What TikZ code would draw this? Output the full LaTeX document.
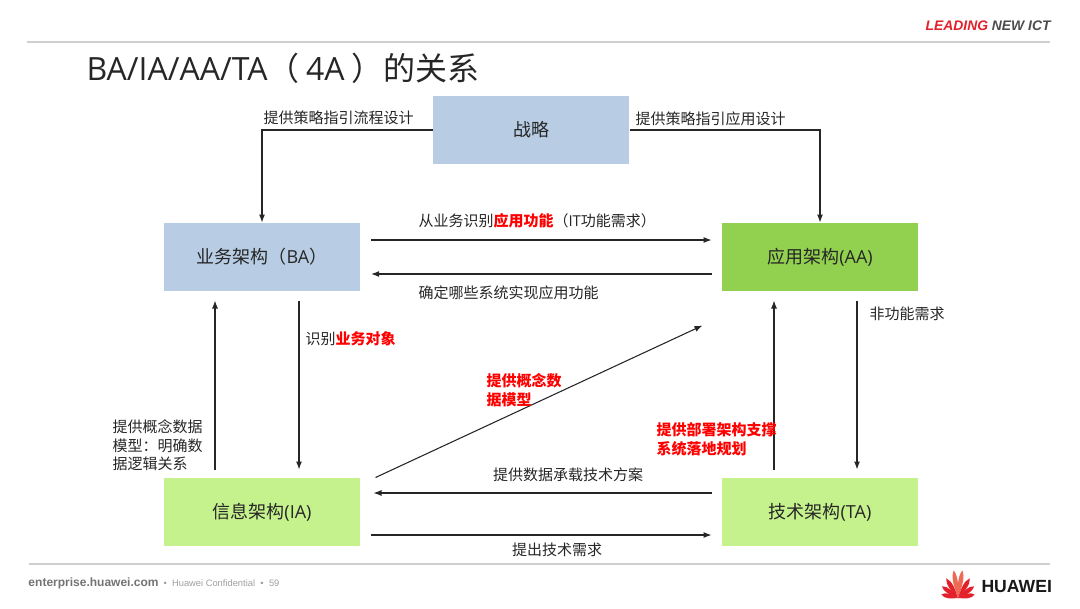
\documentclass[tikz,border=0pt]{standalone}
\usepackage{fontspec}
\setmainfont{Noto Sans CJK SC}
\newfontfamily\logofont{Liberation Sans}
\newfontfamily\latinfont{Open Sans}
\usetikzlibrary{arrows.meta}

\definecolor{boxblue}{HTML}{B8CCE4}
\definecolor{boxgreen}{HTML}{92D050}
\definecolor{boxlime}{HTML}{C6F28E}
\definecolor{textgray}{HTML}{262626}
\definecolor{rulegray}{HTML}{CFCFCF}
\definecolor{logored}{HTML}{E3212B}
\definecolor{logolight}{HTML}{EE6A55}

\tikzset{every picture/.style={line width=0.75pt}}
\tikzset{
  archbox/.style={minimum width=147pt,minimum height=51pt,inner sep=0pt,text=textgray,font=\fontsize{13.5}{16}\selectfont},
  linkarrow/.style={draw=black!85,line width=0.8pt,-{Latex[length=6pt,width=4.5pt]}},
  linklabel/.style={inner sep=0.75pt,text=textgray,font=\fontsize{11.25}{14}\selectfont,align=left},
  redlabel/.style={linklabel,text=red,font=\fontsize{11.25}{14}\selectfont\bfseries},
  footrule/.style={draw=rulegray,line width=0.8pt}
}

\begin{document}
\begin{tikzpicture}[x=0.75pt,y=0.75pt,yscale=-1,xscale=1]
\useasboundingbox (0,0) rectangle (1080,608);

%Header and footer rules
\draw [footrule] (27,42) -- (1050,42);
\draw [footrule] (29,564) -- (1050,564);

%Boxes
\node [archbox,fill=boxblue]  (strategy) at (531,130) {战略};
\node [archbox,fill=boxblue]  (ba) at (262,257) {业务架构（{\latinfont BA}）};
\node [archbox,fill=boxgreen] (aa) at (820,257) {应用架构{\latinfont (AA)}};
\node [archbox,fill=boxlime]  (ia) at (262,512) {信息架构{\latinfont (IA)}};
\node [archbox,fill=boxlime]  (ta) at (820,512) {技术架构{\latinfont (TA)}};

%Arrows from strategy
\draw [linkarrow] (strategy.west) -| (ba.north);
\draw [linkarrow] (strategy.east) -| (aa.north);

%Arrows between BA and AA
\draw [linkarrow] ([xshift=8pt,yshift=-12.75pt]ba.east) -- ([xshift=-7.5pt,yshift=-12.75pt]aa.west);
\draw [linkarrow] ([xshift=-7.5pt,yshift=12.75pt]aa.west) -- ([xshift=8pt,yshift=12.75pt]ba.east);

%Arrows between BA and IA
\draw [linkarrow] ([xshift=27.75pt,yshift=6.75pt]ba.south) -- ([xshift=27.75pt,yshift=-6pt]ia.north);
\draw [linkarrow] ([xshift=-35.25pt,yshift=-6pt]ia.north) -- ([xshift=-35.25pt,yshift=6.75pt]ba.south);

%Arrows between AA and TA
\draw [linkarrow] ([xshift=27.75pt,yshift=6.75pt]aa.south) -- ([xshift=27.75pt,yshift=-6pt]ta.north);
\draw [linkarrow] ([xshift=-34.5pt,yshift=-6pt]ta.north) -- ([xshift=-34.5pt,yshift=6.75pt]aa.south);

%Arrows between IA and TA
\draw [linkarrow] ([xshift=-7.5pt,yshift=-14.25pt]ta.west) -- ([xshift=9.75pt,yshift=-14.25pt]ia.east);
\draw [linkarrow] ([xshift=8pt,yshift=17.25pt]ia.east) -- ([xshift=-7.5pt,yshift=17.25pt]ta.west);

%Diagonal arrow
\draw [linkarrow] ([xshift=11.25pt]ia.north east) -- ([xshift=-14.25pt,yshift=25.5pt]aa.south west);

% Text Node
\node [linklabel,anchor=east] (lblbp) at (415,118) {提供策略指引流程设计};
\node [linklabel,anchor=west] (lblap) at (634,119) {提供策略指引应用设计};
\node [linklabel,anchor=west] (lblfunc) at (417,221) {从业务识别\textcolor{red}{\bfseries 应用功能}（{\latinfont IT}功能需求）};
\node [linklabel,anchor=west] (lblsys) at (417,293) {确定哪些系统实现应用功能};
\node [linklabel,anchor=west] (lblobj) at (304,339) {识别\textcolor{red}{\bfseries 业务对象}};
\node [linklabel,anchor=west] (lblnon) at (868,314) {非功能需求};
\node [linklabel,anchor=north west] (lblmodel) at (111,418) {提供概念数据\\模型：明确数\\据逻辑关系};
\node [redlabel,anchor=north west] (lbldata) at (485,372) {提供概念数\\据模型};
\node [redlabel,anchor=north west] (lbldeploy) at (655,421) {提供部署架构支撑\\系统落地规划};
\node [linklabel,anchor=center] (lbltech) at (568,475) {提供数据承载技术方案};
\node [linklabel,anchor=center] (lblneed) at (557,550) {提出技术需求};

% Title
\node [anchor=west,inner sep=0pt,text=textgray,font=\fontsize{24}{28}\selectfont] (title) at (86,68) {{\latinfont BA/IA/AA/TA}（\hspace{5pt}{\latinfont 4A}\hspace{5pt}）的关系};

% Slogan
\node [anchor=east,inner sep=0pt,font=\logofont\bfseries\itshape\fontsize{10.4}{12}\selectfont] (slogan) at (1051,26) {\textcolor{logored}{LEADING} \textcolor{black!70}{NEW ICT}};

% Footer
\node [anchor=west,inner sep=0pt,text=black!55,font=\logofont\bfseries\fontsize{9}{10}\selectfont] (site) at (28,583) {enterprise.huawei.com};
\node [anchor=west,inner sep=0pt,text=black!38,font=\logofont\fontsize{7}{8}\selectfont] (conf) at (163,583.5) {\textbullet\hspace{4pt}Huawei Confidential\hspace{4pt}\textbullet\hspace{4pt}59};

% Logo
\coordinate (logobase) at (958,598);
\foreach \ang/\len/\col in {-78/17/logored,-54/20/logored,-31/23/logored,-9/28/logolight,9/28/logolight,31/23/logored,54/20/logored,78/17/logored}{
  \fill [\col,rotate around={\ang:(logobase)}]
    (logobase) .. controls (958-2,598-0.4*\len) and (958-4,598-0.75*\len) .. (958,598-\len)
    .. controls (958+4,598-0.75*\len) and (958+2,598-0.4*\len) .. (logobase);
}
\node [anchor=west,inner sep=0pt,text=black!90,font=\logofont\bfseries\fontsize{13.2}{14}\selectfont] (brand) at (981,587) {HUAWEI};

\end{tikzpicture}
\end{document}
